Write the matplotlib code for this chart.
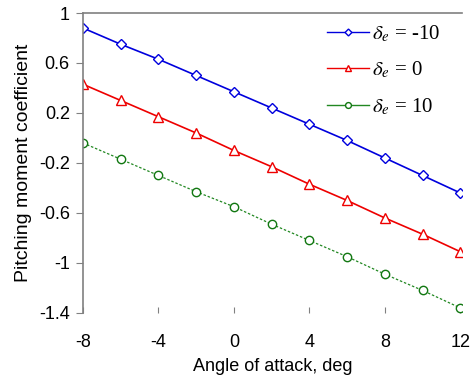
import numpy as np
import matplotlib.pyplot as plt

plt.rcParams['font.family'] = 'Liberation Sans'
plt.rcParams['mathtext.fontset'] = 'stix'
plt.rcParams['axes.unicode_minus'] = False

# Data
alpha = [-8, -6, -4, -2, 0, 2, 4, 6, 8, 10, 12]
cm_neg10 = [0.88, 0.75, 0.63, 0.50, 0.37, 0.24, 0.11, -0.02, -0.16, -0.30, -0.44]
cm_0 = [0.43, 0.30, 0.17, 0.04, -0.10, -0.23, -0.37, -0.50, -0.64, -0.77, -0.91]
cm_pos10 = [-0.04, -0.17, -0.30, -0.43, -0.55, -0.69, -0.82, -0.95, -1.09, -1.22, -1.36]

xticks = [-8, -4, 0, 4, 8, 12]
yticks = [-1.4, -1, -0.6, -0.2, 0.2, 0.6, 1]
ytick_labels = ['-1.4', '-1', '-0.6', '-0.2', '0.2', '0.6', '1']

fig = plt.figure(figsize=(4.74, 3.77), dpi=100)
ax = fig.add_axes([0.175, 0.170, 0.80, 0.7955])

ax.plot(alpha, cm_neg10, color='#0000dd', lw=1.2, marker='D', ms=5,
        mfc='white', mec='#0000dd', mew=1.0, label=r'$\delta_e$ = -10')
ax.plot(alpha, cm_0, color='#ee0000', lw=1.2, marker='^', ms=6.5,
        mfc='white', mec='#ee0000', mew=1.0, label=r'$\delta_e$ = 0')
ax.plot(alpha, cm_pos10, color='#228822', lw=0.9, ls=(0, (2, 1.5)), marker='o', ms=6,
        mfc='white', mec='#117711', mew=1.0, label=r'$\delta_e$ = 10')

ax.set_xlim(-8, 12.1)
ax.set_ylim(-1.4, 1)
ax.set_xticks(xticks)
ax.set_yticks(yticks)
ax.set_yticklabels(ytick_labels)

for s in ['right', 'bottom']:
    ax.spines[s].set_visible(False)
for s in ['left', 'top']:
    ax.spines[s].set_color('#808080')
    ax.spines[s].set_linewidth(1.2)

ax.tick_params(axis='y', direction='out', length=5, color='#808080',
               labelsize=13, pad=4.5)
ax.tick_params(axis='x', direction='in', length=4, color='#808080',
               labelsize=13, pad=15)

ax.set_xlabel('Angle of attack, deg', fontsize=13, labelpad=5)
ax.set_ylabel('Pitching moment coefficient', fontsize=14, labelpad=5)

leg = ax.legend(loc='upper left', bbox_to_anchor=(0.644, 0.965), frameon=False,
                prop={'family': 'Liberation Serif', 'size': 15},
                borderaxespad=0, borderpad=0, markerscale=0.7,
                handlelength=2.0, handletextpad=0.15, labelspacing=0.75)
for line in leg.get_lines():
    line.set_linestyle('-')
    line.set_linewidth(1.0)

fig.savefig('out.png', dpi=100)
